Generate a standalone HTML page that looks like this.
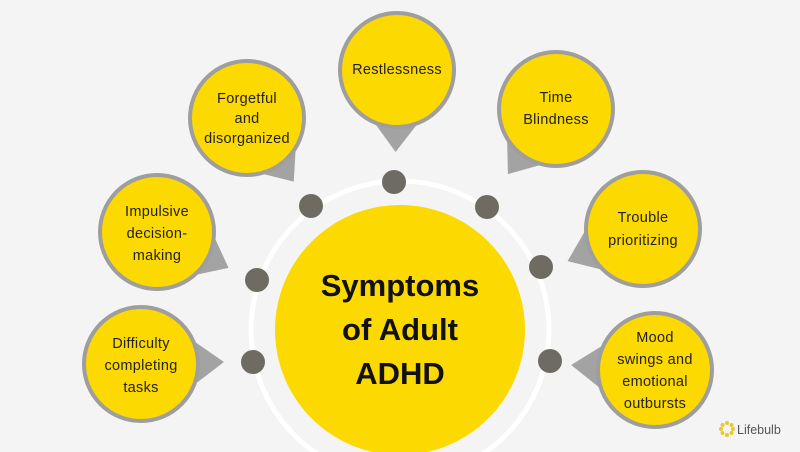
<!DOCTYPE html>
<html><head><meta charset="utf-8"><style>
html,body{margin:0;padding:0;background:#f4f4f4;width:800px;height:452px;overflow:hidden;}
svg{display:block}
.t{font-family:"Liberation Sans",sans-serif;font-size:14.5px;fill:#222;text-anchor:middle;letter-spacing:0.3px}
.c{font-family:"Liberation Sans",sans-serif;font-size:31px;font-weight:bold;fill:#111;text-anchor:middle}
</style></head><body>
<svg width="800" height="452" viewBox="0 0 800 452" xmlns="http://www.w3.org/2000/svg">
<rect width="800" height="452" fill="#f4f4f4"/>
<circle cx="400" cy="330" r="149" fill="none" stroke="#ffffff" stroke-width="5"/>
<circle cx="400" cy="330" r="125" fill="#fcd900"/>
<text class="c" x="400" y="296">Symptoms</text>
<text class="c" x="400" y="340">of Adult</text>
<text class="c" x="400" y="384">ADHD</text>
<g fill="#6e6b62">
<circle cx="394" cy="182" r="12"/><circle cx="311" cy="206" r="12"/><circle cx="487" cy="207" r="12"/>
<circle cx="257" cy="280" r="12"/><circle cx="541" cy="267" r="12"/><circle cx="253" cy="362" r="12"/><circle cx="550" cy="361" r="12"/>
</g>
<g fill="#a3a3a3">
<g transform="translate(397,70) rotate(91)"><polygon points="50,-24 82,0 50,24"/></g>
<g transform="translate(247,118) rotate(53.7)"><polygon points="50,-24 79,0 50,24"/></g>
<g transform="translate(556,109) rotate(126.4)"><polygon points="50,-24 81,0 50,24"/></g>
<g transform="translate(157,232) rotate(26.6)"><polygon points="50,-24 80,0 50,24"/></g>
<g transform="translate(643,229) rotate(156.9)"><polygon points="50,-24 82,0 50,24"/></g>
<g transform="translate(141,364) rotate(-1.4)"><polygon points="50,-24 83,0 50,24"/></g>
<g transform="translate(655,370) rotate(183.4)"><polygon points="50,-24 84,0 50,24"/></g>
</g>
<g fill="#fcd900" stroke="#9e9e9e" stroke-width="4">
<circle cx="397" cy="70" r="57"/><circle cx="247" cy="118" r="57"/><circle cx="556" cy="109" r="57"/>
<circle cx="157" cy="232" r="57"/><circle cx="643" cy="229" r="57"/><circle cx="141" cy="364" r="57"/><circle cx="655" cy="370" r="57"/>
</g>
<text class="t" x="397" y="74">Restlessness</text>
<text class="t" x="247" y="103">Forgetful</text><text class="t" x="247" y="123">and</text><text class="t" x="247" y="143">disorganized</text>
<text class="t" x="556" y="102">Time</text><text class="t" x="556" y="124">Blindness</text>
<text class="t" x="157" y="216">Impulsive</text><text class="t" x="157" y="238">decision-</text><text class="t" x="157" y="260">making</text>
<text class="t" x="643" y="222">Trouble</text><text class="t" x="643" y="245">prioritizing</text>
<text class="t" x="141" y="348">Difficulty</text><text class="t" x="141" y="370">completing</text><text class="t" x="141" y="392">tasks</text>
<text class="t" x="655" y="342">Mood</text><text class="t" x="655" y="364">swings and</text><text class="t" x="655" y="386">emotional</text><text class="t" x="655" y="408">outbursts</text>
<g transform="translate(727,429)" fill="#e8c832">
<circle cx="0" cy="-6" r="2"/><circle cx="4.5" cy="-4" r="2"/><circle cx="6" cy="0" r="2"/><circle cx="4.5" cy="4" r="2"/><circle cx="0" cy="6" r="2"/><circle cx="-4.5" cy="4" r="2"/><circle cx="-6" cy="0" r="2"/><circle cx="-4.5" cy="-4" r="2"/>
</g>
<text x="737" y="434" font-family="Liberation Sans,sans-serif" font-size="12.5" fill="#555">Lifebulb</text>
</svg>
</body></html>
